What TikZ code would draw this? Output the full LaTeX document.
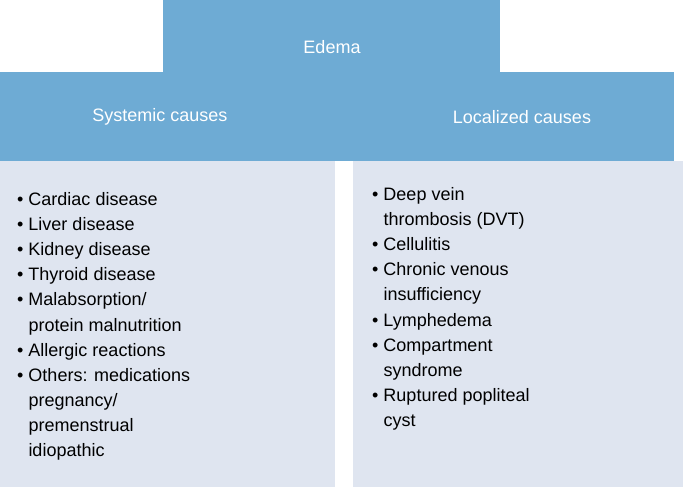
\documentclass[tikz,border=0pt]{standalone}
\usepackage{fontspec}
\setmainfont{Liberation Sans}
\definecolor{hdr}{HTML}{6EABD4}
\definecolor{lite}{HTML}{DFE5F0}
\begin{document}
\begin{tikzpicture}[x=1pt,y=-1pt,
  hbox/.style={fill=hdr,draw=none},
  lbox/.style={fill=lite,draw=none},
  htext/.style={text=white,font=\fontsize{18}{22}\selectfont,inner sep=0},
  item/.style={anchor=base west,inner sep=0,font=\fontsize{18}{22}\selectfont,text=black}]
\useasboundingbox (0,0) rectangle (685,487);
\fill[hbox] (163,0) rectangle (500,73);
\fill[hbox] (0,72) rectangle (674,161);
\fill[lbox] (0,161) rectangle (335,487);
\fill[lbox] (353,161) rectangle (683,487);
\node[htext] (edema) at (332,47) {Edema};
\node[htext] (sys) at (160,117) {Systemic causes};
\node[htext] (loc) at (522,117) {Localized causes};
\def\bl{\textbullet\ }
\def\ind{\phantom{\textbullet\ }}
\foreach \t [count=\i] in {\bl Cardiac disease,\bl Liver disease,\bl Kidney disease,\bl Thyroid disease,\bl Malabsorption/,\ind protein malnutrition,\bl Allergic reactions,\bl Others: medications,\ind pregnancy/,\ind premenstrual,\ind idiopathic}
  \node[item] (l\i) at (17,{205.5+25.1*(\i-1)}) {\t};
\foreach \t [count=\i] in {\bl Deep vein,\ind thrombosis (DVT),\bl Cellulitis,\bl Chronic venous,\ind insufficiency,\bl Lymphedema,\bl Compartment,\ind syndrome,\bl Ruptured popliteal,\ind cyst}
  \node[item] (r\i) at (372,{200.5+25.1*(\i-1)}) {\t};
\end{tikzpicture}
\end{document}
